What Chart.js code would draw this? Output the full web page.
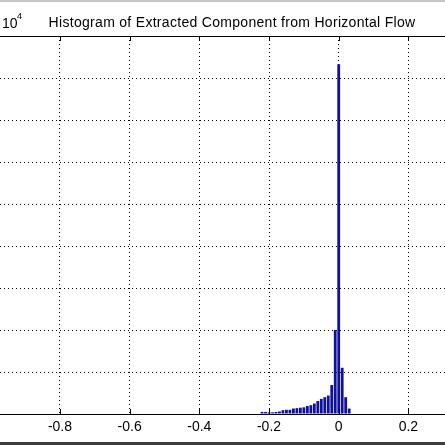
<!DOCTYPE html>
<html>
<head>
<meta charset="utf-8">
<script src="https://cdn.jsdelivr.net/npm/chart.js@4"></script>
<style>
    html, body { margin: 0; padding: 0; background: #fff; }
    #wrap { width: 445px; height: 445px; position: relative; }
</style>
</head>
<body>
<div id="wrap"><canvas id="histChart"></canvas></div>
<script>
// bin centres (horizontal flow component)
const binCenters = [
    -0.22, -0.21, -0.20, -0.19, -0.18, -0.17, -0.16, -0.15, -0.14, -0.13,
    -0.12, -0.11, -0.10, -0.09, -0.08, -0.07, -0.06, -0.05, -0.04, -0.03,
    -0.02, -0.01, 0.00, 0.01, 0.02, 0.03,
];
// counts, in units of 10^4
const binCounts = [
    0.05, 0.05, 0.04, 0.04, 0.05, 0.06, 0.09, 0.10, 0.10, 0.13,
    0.14, 0.15, 0.16, 0.19, 0.21, 0.25, 0.31, 0.36, 0.40, 0.44,
    0.69, 2.00, 8.33, 1.10, 0.40, 0.13,
];
const xTicks = [-0.8, -0.6, -0.4, -0.2, 0, 0.2];
const yTicks = [0, 1, 2, 3, 4, 5, 6, 7, 8, 9];
const chartTitle = "Histogram of Extracted Component from Horizontal Flow";
const yExponent = "4";

const FONT = "'Liberation Sans', Arial, sans-serif";

// frame: top line, inward tick marks, title and exponent label
const matlabFrame = {
    id: "matlabFrame",
    beforeDraw(chart) {
        const { ctx } = chart;
        ctx.save();
        ctx.fillStyle = "#c8c8c8";
        ctx.fillRect(0, 0, chart.width, 2);
        ctx.fillStyle = "#3c3c3c";
        ctx.fillRect(0, chart.height - 3, chart.width, 3);
        ctx.restore();
    },
    afterDraw(chart) {
        const { ctx, chartArea } = chart;
        const xs = chart.scales.x;
        ctx.save();
        ctx.strokeStyle = "#000";
        ctx.lineWidth = 1;
        ctx.beginPath();
        ctx.moveTo(chartArea.left, Math.round(chartArea.top) + 0.5);
        ctx.lineTo(chartArea.right, Math.round(chartArea.top) + 0.5);
        xTicks.forEach((v) => {
            const px = Math.round(xs.getPixelForValue(v)) + 0.5;
            ctx.moveTo(px, chartArea.bottom);
            ctx.lineTo(px, chartArea.bottom - 5);
            ctx.moveTo(px, chartArea.top);
            ctx.lineTo(px, chartArea.top + 5);
        });
        ctx.stroke();

        ctx.fillStyle = "#000";
        ctx.textBaseline = "alphabetic";
        ctx.textAlign = "center";
        ctx.font = "14px " + FONT;
        ctx.letterSpacing = "0.3px";
        ctx.fillText(chartTitle, 232, 27);
        ctx.letterSpacing = "0px";

        ctx.textAlign = "left";
        ctx.fillText("10", 2, 28);
        ctx.font = "9px " + FONT;
        ctx.fillText(yExponent, 17, 19);
        ctx.restore();
    },
};

function renderHistogram() {
    const ctx = document.getElementById("histChart");

    new Chart(ctx, {
        type: "bar",
        data: {
            datasets: [
                {
                    data: binCenters.map((x, i) => ({ x, y: binCounts[i] })),
                    backgroundColor: "#10109e",
                    borderWidth: 0,
                    barPercentage: 0.8,
                    categoryPercentage: 1.0,
                },
            ],
        },
        options: {
            responsive: true,
            maintainAspectRatio: false,
            animation: false,
            layout: { padding: { top: 36, left: 0, right: 0, bottom: 0 } },
            plugins: {
                legend: { display: false },
                tooltip: { enabled: false },
                title: { display: false },
            },
            scales: {
                x: {
                    type: "linear",
                    offset: false,
                    min: -0.972,
                    max: 0.305,
                    afterBuildTicks: (s) => {
                        s.ticks = xTicks.map((v) => ({ value: v }));
                    },
                    afterFit: (s) => {
                        s.height = 31;
                        s.paddingLeft = 0;
                        s.paddingRight = 0;
                    },
                    ticks: {
                        color: "#000",
                        font: { family: FONT, size: 14 },
                        padding: 5,
                        maxRotation: 0,
                        callback: (v) => String(v),
                    },
                    grid: {
                        offset: false,
                        color: "#000",
                        lineWidth: 1,
                        drawTicks: false,
                    },
                    border: { display: true, color: "#000", width: 1, dash: [1, 3] },
                },
                y: {
                    min: 0,
                    max: 9,
                    afterBuildTicks: (s) => {
                        s.ticks = yTicks.map((v) => ({ value: v }));
                    },
                    afterFit: (s) => {
                        s.width = 0;
                    },
                    ticks: { display: false },
                    grid: {
                        color: "#000",
                        lineWidth: 1,
                        drawTicks: false,
                    },
                    border: { display: false, dash: [1, 3] },
                },
            },
        },
        plugins: [matlabFrame],
    });
}

renderHistogram();
</script>
</body>
</html>
